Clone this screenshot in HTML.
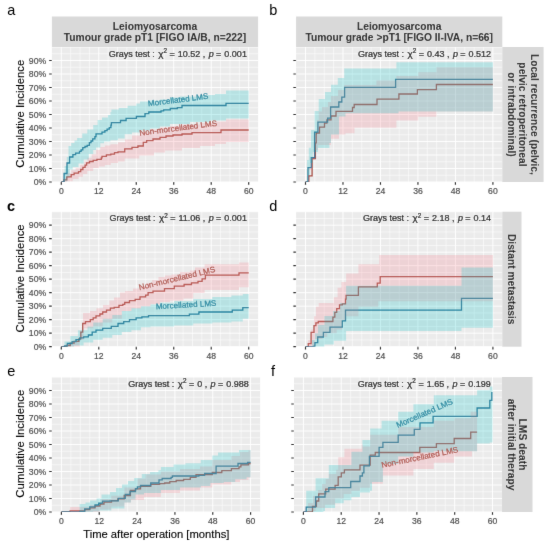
<!DOCTYPE html>
<html><head><meta charset="utf-8"><style>
html,body{margin:0;padding:0;background:#fff;}
body{width:550px;height:545px;position:relative;overflow:hidden;font-family:"Liberation Sans",sans-serif;}
svg text{font-family:"Liberation Sans",sans-serif;}
</style></head><body>
<svg width="550" height="545" viewBox="0 0 550 545" style="position:absolute;left:0;top:0">
<defs><filter id="soft" x="0" y="0" width="550" height="545" filterUnits="userSpaceOnUse"><feConvolveMatrix order="3" kernelMatrix="0.0052 0.0619 0.0052 0.0619 0.7314 0.0619 0.0052 0.0619 0.0052" edgeMode="duplicate" preserveAlpha="false"/></filter></defs>
<rect width="550" height="545" fill="#fff"/><g filter="url(#soft)">
<text x="7.3" y="15" font-size="14.5" fill="#000">a</text>
<text x="269.3" y="15" font-size="14.5" fill="#000">b</text>
<text x="7.0" y="210.7" font-size="14.5" fill="#000" font-weight="bold">c</text>
<text x="269.3" y="210.7" font-size="14.5" fill="#000">d</text>
<text x="7.3" y="375.6" font-size="14.5" fill="#000">e</text>
<text x="271.0" y="375.6" font-size="14.5" fill="#000">f</text>
<clipPath id="clipa"><rect x="51.9" y="47" width="206.2" height="135"/></clipPath>
<rect x="51.9" y="47" width="206.2" height="135" fill="#EBEBEB"/>
<path d="M51.9 175.25H258.1M51.9 161.75H258.1M51.9 148.25H258.1M51.9 134.75H258.1M51.9 121.25H258.1M51.9 107.75H258.1M51.9 94.25H258.1M51.9 80.75H258.1M51.9 67.25H258.1M51.9 53.75H258.1M70.67 47V182M80.04 47V182M89.41 47V182M108.15 47V182M117.52 47V182M126.89 47V182M145.63 47V182M155 47V182M164.37 47V182M183.11 47V182M192.48 47V182M201.85 47V182M220.59 47V182M229.96 47V182M239.33 47V182" stroke="#fff" stroke-width="0.55" fill="none"/>
<path d="M51.9 182H258.1M51.9 168.5H258.1M51.9 155H258.1M51.9 141.5H258.1M51.9 128H258.1M51.9 114.5H258.1M51.9 101H258.1M51.9 87.5H258.1M51.9 74H258.1M51.9 60.5H258.1M51.9 47H258.1M61.3 47V182M98.78 47V182M136.26 47V182M173.74 47V182M211.22 47V182M248.7 47V182" stroke="#fff" stroke-width="0.95" fill="none"/>
<g clip-path="url(#clipa)">
<path d="M61.3 182 L63.9 182 L63.9 179.8 L66.8 179.8 L66.8 176.8 L71.2 176.8 L71.2 174.6 L74.1 174.6 L74.1 173.2 L78.5 173.2 L78.5 171.7 L80.7 171.7 L80.7 169.5 L82.9 169.5 L82.9 167.3 L85.1 167.3 L85.1 165.1 L86.6 165.1 L86.6 162.9 L89.5 162.9 L89.5 161.5 L93.2 161.5 L93.2 160.4 L96.9 160.4 L96.9 159.3 L101.3 159.3 L101.3 157.8 L102 157.8 L102 156.3 L106.4 156.3 L106.4 154.9 L110.8 154.9 L110.8 154.1 L114.5 154.1 L114.5 152.7 L118 152.7 L118 151.9 L124.7 151.9 L124.7 148.9 L132 148.9 L132 147.4 L137.9 147.4 L137.9 146 L143.3 146 L143.3 142.3 L146.6 142.3 L146.6 140.7 L153 140.7 L153 139 L160 139 L160 137.4 L166 137.4 L166 136 L173 136 L173 135 L182 135 L182 134 L192 134 L192 132.6 L221 132.6 L221 130 L248.7 130" stroke="#a84b40" stroke-width="1.3" fill="none" stroke-linejoin="miter"/>
<path d="M61.3 182 L64.1 182 L64.1 173.5 L67 173.5 L67 163 L69.6 163 L69.6 157 L72.9 157 L72.9 154.7 L75.6 154.7 L75.6 153.1 L79.5 153.1 L79.5 151.4 L81.1 151.4 L81.1 149.8 L82.8 149.8 L82.8 147.6 L85 147.6 L85 146.5 L87.2 146.5 L87.2 145.4 L89.4 145.4 L89.4 142.6 L91 142.6 L91 141 L92.7 141 L92.7 138.8 L94.9 138.8 L94.9 136.6 L96 136.6 L96 133.8 L102 133.8 L102 132.1 L104.9 132.1 L104.9 130.7 L107.1 130.7 L107.1 129.2 L109.3 129.2 L109.3 127.7 L110.9 127.7 L110.9 125.2 L111.4 125.2 L111.4 122.6 L120.5 122.6 L120.5 120.5 L126.1 120.5 L126.1 118.4 L136.4 118.4 L136.4 116.5 L145 116.5 L145 113.7 L148.8 113.7 L148.8 112 L161 112 L161 110.9 L163.7 110.9 L163.7 109.8 L170.3 109.8 L170.3 108.5 L177.4 108.5 L177.4 107.6 L182 107.6 L182 105.5 L226 105.5 L226 103.4 L248.7 103.4" stroke="#2a7396" stroke-width="1.3" fill="none" stroke-linejoin="miter"/>
<path d="M61.3 182 L63.9 182 L63.9 178.3 L66.8 178.3 L66.8 173.2 L71.2 173.2 L71.2 170.2 L75.6 170.2 L75.6 168 L80 168 L80 165.1 L84.4 165.1 L84.4 161.5 L87.3 161.5 L87.3 157.8 L91.7 157.8 L91.7 154.2 L96.1 154.2 L96.1 150 L100.3 150 L100.3 147 L104.9 147 L104.9 145.5 L110.4 145.5 L110.4 144.3 L118 144.3 L118 142.3 L125 142.3 L125 139.5 L132 139.5 L132 135.5 L140 135.5 L140 132 L150 132 L150 129.5 L160 129.5 L160 127.5 L170 127.5 L170 126 L182 126 L182 124.5 L200 124.5 L200 123 L215 123 L215 121.4 L226 121.4 L226 119.4 L248.7 119.4 L248.7 142 L226 142 L226 144 L215 144 L215 146 L200 146 L200 148 L182 148 L182 150.4 L165 150.4 L165 152.6 L154 152.6 L154 155.5 L139.3 155.5 L139.3 158.5 L124.7 158.5 L124.7 161.5 L118 161.5 L118 162.9 L110.8 162.9 L110.8 165.1 L104.9 165.1 L104.9 166.6 L99 166.6 L99 168 L93.2 168 L93.2 171 L87.3 171 L87.3 173.9 L82.9 173.9 L82.9 176.8 L78.5 176.8 L78.5 179 L72.7 179 L72.7 181.2 L66.8 181.2 L66.8 182 L61.3 182Z" fill="#F57A88" fill-opacity="0.22"/>
<path d="M61.3 182 L63.5 182 L63.5 173 L64.6 173 L64.6 166 L66.8 166 L66.8 157 L68.5 157 L68.5 146 L71.2 146 L71.2 143 L74.5 143 L74.5 140.5 L77.1 140.5 L77.1 138 L82.2 138 L82.2 133.5 L87.3 133.5 L87.3 129.5 L93.2 129.5 L93.2 125 L97.6 125 L97.6 120 L102 120 L102 117.5 L107.9 117.5 L107.9 115 L110.4 115 L110.4 112 L111.4 112 L111.4 109.5 L118.8 109.5 L118.8 107.9 L127.6 107.9 L127.6 105.7 L136.4 105.7 L136.4 103.5 L140 103.5 L140 101.6 L150 101.6 L150 100.5 L160 100.5 L160 99.4 L170 99.4 L170 97.5 L180 97.5 L180 96.5 L200 96.5 L200 95 L215 95 L215 94 L226 94 L226 90.6 L248.7 90.6 L248.7 118.5 L226 118.5 L226 120.5 L210 120.5 L210 122 L190 122 L190 124.1 L170 124.1 L170 126.5 L160 126.5 L160 128.5 L150 128.5 L150 130.2 L140 130.2 L140 132.5 L132 132.5 L132 134.3 L124.7 134.3 L124.7 138.5 L118 138.5 L118 140.3 L110.4 140.3 L110.4 141.5 L104 141.5 L104 143.3 L100.3 143.3 L100.3 147.5 L96.1 147.5 L96.1 150 L93.2 150 L93.2 154 L88.8 154 L88.8 159.5 L83.7 159.5 L83.7 163.5 L78.5 163.5 L78.5 167 L72.7 167 L72.7 169.5 L69.7 169.5 L69.7 176.8 L67.5 176.8 L67.5 181.2 L64.6 181.2 L64.6 182 L61.3 182Z" fill="#00BFC4" fill-opacity="0.22"/>
</g>
<text x="178.5" y="102.5" font-size="8.1" fill="#23869f" stroke="#23869f" stroke-width="0.2" text-anchor="middle" transform="rotate(-7.2 178.5 102.5)">Morcellated LMS</text>
<text x="178.5" y="130.7" font-size="8.1" fill="#ad5249" stroke="#ad5249" stroke-width="0.2" text-anchor="middle" transform="rotate(-7.3 178.5 130.7)">Non-morcellated LMS</text>
<path d="M49.15 182H51.9M49.15 168.5H51.9M49.15 155H51.9M49.15 141.5H51.9M49.15 128H51.9M49.15 114.5H51.9M49.15 101H51.9M49.15 87.5H51.9M49.15 74H51.9M49.15 60.5H51.9M61.3 182V184.75M98.78 182V184.75M136.26 182V184.75M173.74 182V184.75M211.22 182V184.75M248.7 182V184.75" stroke="#333" stroke-width="1.2" fill="none"/>
<text x="61.3" y="193.8" font-size="8.6" fill="#4D4D4D" stroke="#4D4D4D" stroke-width="0.18" text-anchor="middle">0</text>
<text x="98.78" y="193.8" font-size="8.6" fill="#4D4D4D" stroke="#4D4D4D" stroke-width="0.18" text-anchor="middle">12</text>
<text x="136.26" y="193.8" font-size="8.6" fill="#4D4D4D" stroke="#4D4D4D" stroke-width="0.18" text-anchor="middle">24</text>
<text x="173.74" y="193.8" font-size="8.6" fill="#4D4D4D" stroke="#4D4D4D" stroke-width="0.18" text-anchor="middle">36</text>
<text x="211.22" y="193.8" font-size="8.6" fill="#4D4D4D" stroke="#4D4D4D" stroke-width="0.18" text-anchor="middle">48</text>
<text x="248.7" y="193.8" font-size="8.6" fill="#4D4D4D" stroke="#4D4D4D" stroke-width="0.18" text-anchor="middle">60</text>
<text x="46.2" y="185.1" font-size="8.7" fill="#4D4D4D" stroke="#4D4D4D" stroke-width="0.18" text-anchor="end">0%</text>
<text x="46.2" y="171.6" font-size="8.7" fill="#4D4D4D" stroke="#4D4D4D" stroke-width="0.18" text-anchor="end">10%</text>
<text x="46.2" y="158.1" font-size="8.7" fill="#4D4D4D" stroke="#4D4D4D" stroke-width="0.18" text-anchor="end">20%</text>
<text x="46.2" y="144.6" font-size="8.7" fill="#4D4D4D" stroke="#4D4D4D" stroke-width="0.18" text-anchor="end">30%</text>
<text x="46.2" y="131.1" font-size="8.7" fill="#4D4D4D" stroke="#4D4D4D" stroke-width="0.18" text-anchor="end">40%</text>
<text x="46.2" y="117.6" font-size="8.7" fill="#4D4D4D" stroke="#4D4D4D" stroke-width="0.18" text-anchor="end">50%</text>
<text x="46.2" y="104.1" font-size="8.7" fill="#4D4D4D" stroke="#4D4D4D" stroke-width="0.18" text-anchor="end">60%</text>
<text x="46.2" y="90.6" font-size="8.7" fill="#4D4D4D" stroke="#4D4D4D" stroke-width="0.18" text-anchor="end">70%</text>
<text x="46.2" y="77.1" font-size="8.7" fill="#4D4D4D" stroke="#4D4D4D" stroke-width="0.18" text-anchor="end">80%</text>
<text x="46.2" y="63.6" font-size="8.7" fill="#4D4D4D" stroke="#4D4D4D" stroke-width="0.18" text-anchor="end">90%</text>
<text x="23.8" y="113.7" font-size="11.3" fill="#000" stroke="#000" stroke-width="0.12" text-anchor="middle" transform="rotate(-90 23.8 113.7)">Cumulative Incidence</text>
<text x="246.9" y="56.7" font-size="9" fill="#111" stroke="#111" stroke-width="0.22" text-anchor="end">Grays test :<tspan dx="3.4" font-size="9.9">χ</tspan><tspan dy="-3.8" font-size="6.3">2</tspan><tspan dy="3.8" dx="2.6">=</tspan><tspan dx="3">10.52</tspan><tspan dx="2.4">,</tspan><tspan dx="3.4" font-style="italic">p</tspan><tspan dx="2.4">=</tspan><tspan dx="3">0.001</tspan></text>
<clipPath id="clipb"><rect x="296.1" y="47" width="206.2" height="135"/></clipPath>
<rect x="296.1" y="47" width="206.2" height="135" fill="#EBEBEB"/>
<path d="M296.1 175.25H502.3M296.1 161.75H502.3M296.1 148.25H502.3M296.1 134.75H502.3M296.1 121.25H502.3M296.1 107.75H502.3M296.1 94.25H502.3M296.1 80.75H502.3M296.1 67.25H502.3M296.1 53.75H502.3M314.87 47V182M324.24 47V182M333.61 47V182M352.35 47V182M361.72 47V182M371.09 47V182M389.83 47V182M399.2 47V182M408.57 47V182M427.31 47V182M436.68 47V182M446.05 47V182M464.79 47V182M474.16 47V182M483.53 47V182" stroke="#fff" stroke-width="0.55" fill="none"/>
<path d="M296.1 182H502.3M296.1 168.5H502.3M296.1 155H502.3M296.1 141.5H502.3M296.1 128H502.3M296.1 114.5H502.3M296.1 101H502.3M296.1 87.5H502.3M296.1 74H502.3M296.1 60.5H502.3M296.1 47H502.3M305.5 47V182M342.98 47V182M380.46 47V182M417.94 47V182M455.42 47V182M492.9 47V182" stroke="#fff" stroke-width="0.95" fill="none"/>
<g clip-path="url(#clipb)">
<path d="M305.5 182 L308.8 182 L308.8 175.9 L312.1 175.9 L312.1 158.5 L315.4 158.5 L315.4 142.9 L316.2 142.9 L316.2 133 L319.5 133 L319.5 127.2 L324.5 127.2 L324.5 123.1 L326.9 123.1 L326.9 119.8 L331 119.8 L331 116 L336 116 L336 111.3 L352.5 111.3 L352.5 107.5 L354.2 107.5 L354.2 104.5 L377 104.5 L377 99.2 L398.9 99.2 L398.9 94 L417.4 94 L417.4 89.6 L436.4 89.6 L436.4 84.5 L492.9 84.5" stroke="#a84b40" stroke-width="1.3" fill="none" stroke-linejoin="miter"/>
<path d="M305.5 182 L308 182 L308 167.6 L311.3 167.6 L311.3 157.7 L314.6 157.7 L314.6 132.1 L317.9 132.1 L317.9 122.2 L327.6 122.2 L327.6 118.1 L330.6 118.1 L330.6 107 L338.8 107 L338.8 102 L341.8 102 L341.8 97.2 L344.6 97.2 L344.6 87.3 L395.6 87.3 L395.6 79.4 L492.9 79.4" stroke="#2a7396" stroke-width="1.3" fill="none" stroke-linejoin="miter"/>
<path d="M305.5 182 L308 182 L308 168 L311 168 L311 158 L314.6 158 L314.6 135 L317 135 L317 120 L318.7 120 L318.7 111.5 L322 111.5 L322 107 L328 107 L328 102 L331 102 L331 96 L338 96 L338 90 L344.2 90 L344.2 85 L376.4 85 L376.4 80.5 L396.4 80.5 L396.4 75.9 L418.2 75.9 L418.2 72.3 L436.4 72.3 L436.4 67.3 L492.9 67.3 L492.9 111.6 L436.4 111.6 L436.4 116.7 L418.2 116.7 L418.2 120.5 L396.4 120.5 L396.4 127.7 L354.5 127.7 L354.5 133.2 L345.5 133.2 L345.5 134.5 L339 134.5 L339 138.7 L331 138.7 L331 145 L318 145 L318 150 L315 150 L315 160 L312 160 L312 170 L309 170 L309 182 L305.5 182Z" fill="#F57A88" fill-opacity="0.22"/>
<path d="M305.5 182 L307 182 L307 160 L308.8 160 L308.8 147.8 L311 147.8 L311 130 L314.6 130 L314.6 111 L318.7 111 L318.7 99.1 L325 99.1 L325 92 L331 92 L331 84.8 L337.8 84.8 L337.8 78 L344.2 78 L344.2 68.6 L396.4 68.6 L396.4 62.3 L492.9 62.3 L492.9 111.6 L398.5 111.6 L398.5 113.2 L345.5 113.2 L345.5 116.5 L339 116.5 L339 134.6 L331 134.6 L331 143 L329.4 143 L329.4 148 L318 148 L318 152 L312.9 152 L312.9 163 L310 163 L310 175 L308 175 L308 182 L305.5 182Z" fill="#00BFC4" fill-opacity="0.22"/>
</g>
<path d="M293.35 182H296.1M293.35 168.5H296.1M293.35 155H296.1M293.35 141.5H296.1M293.35 128H296.1M293.35 114.5H296.1M293.35 101H296.1M293.35 87.5H296.1M293.35 74H296.1M293.35 60.5H296.1M305.5 182V184.75M342.98 182V184.75M380.46 182V184.75M417.94 182V184.75M455.42 182V184.75M492.9 182V184.75" stroke="#333" stroke-width="1.2" fill="none"/>
<text x="305.5" y="193.8" font-size="8.6" fill="#4D4D4D" stroke="#4D4D4D" stroke-width="0.18" text-anchor="middle">0</text>
<text x="342.98" y="193.8" font-size="8.6" fill="#4D4D4D" stroke="#4D4D4D" stroke-width="0.18" text-anchor="middle">12</text>
<text x="380.46" y="193.8" font-size="8.6" fill="#4D4D4D" stroke="#4D4D4D" stroke-width="0.18" text-anchor="middle">24</text>
<text x="417.94" y="193.8" font-size="8.6" fill="#4D4D4D" stroke="#4D4D4D" stroke-width="0.18" text-anchor="middle">36</text>
<text x="455.42" y="193.8" font-size="8.6" fill="#4D4D4D" stroke="#4D4D4D" stroke-width="0.18" text-anchor="middle">48</text>
<text x="492.9" y="193.8" font-size="8.6" fill="#4D4D4D" stroke="#4D4D4D" stroke-width="0.18" text-anchor="middle">60</text>
<text x="491.1" y="56.7" font-size="9" fill="#111" stroke="#111" stroke-width="0.22" text-anchor="end">Grays test :<tspan dx="3.4" font-size="9.9">χ</tspan><tspan dy="-3.8" font-size="6.3">2</tspan><tspan dy="3.8" dx="2.6">=</tspan><tspan dx="3">0.43</tspan><tspan dx="2.4">,</tspan><tspan dx="3.4" font-style="italic">p</tspan><tspan dx="2.4">=</tspan><tspan dx="3">0.512</tspan></text>
<clipPath id="clipc"><rect x="51.9" y="211.7" width="206.2" height="135"/></clipPath>
<rect x="51.9" y="211.7" width="206.2" height="135" fill="#EBEBEB"/>
<path d="M51.9 339.95H258.1M51.9 326.45H258.1M51.9 312.95H258.1M51.9 299.45H258.1M51.9 285.95H258.1M51.9 272.45H258.1M51.9 258.95H258.1M51.9 245.45H258.1M51.9 231.95H258.1M51.9 218.45H258.1M70.67 211.7V346.7M80.04 211.7V346.7M89.41 211.7V346.7M108.15 211.7V346.7M117.52 211.7V346.7M126.89 211.7V346.7M145.63 211.7V346.7M155 211.7V346.7M164.37 211.7V346.7M183.11 211.7V346.7M192.48 211.7V346.7M201.85 211.7V346.7M220.59 211.7V346.7M229.96 211.7V346.7M239.33 211.7V346.7" stroke="#fff" stroke-width="0.55" fill="none"/>
<path d="M51.9 346.7H258.1M51.9 333.2H258.1M51.9 319.7H258.1M51.9 306.2H258.1M51.9 292.7H258.1M51.9 279.2H258.1M51.9 265.7H258.1M51.9 252.2H258.1M51.9 238.7H258.1M51.9 225.2H258.1M51.9 211.7H258.1M61.3 211.7V346.7M98.78 211.7V346.7M136.26 211.7V346.7M173.74 211.7V346.7M211.22 211.7V346.7M248.7 211.7V346.7" stroke="#fff" stroke-width="0.95" fill="none"/>
<g clip-path="url(#clipc)">
<path d="M61.3 346.7 L66.5 346.7 L66.5 345.5 L70.3 345.5 L70.3 343.2 L74.1 343.2 L74.1 341.3 L78.9 341.3 L78.9 338.8 L80.8 338.8 L80.8 332.1 L82.7 332.1 L82.7 323.5 L85.5 323.5 L85.5 321.6 L90.3 321.6 L90.3 319.7 L93.2 319.7 L93.2 317.8 L96 317.8 L96 315.9 L99.9 315.9 L99.9 314 L102.7 314 L102.7 312 L106.5 312 L106.5 310.1 L110.4 310.1 L110.4 308.2 L114.2 308.2 L114.2 307.3 L119 307.3 L119 305.4 L122.8 305.4 L122.8 304.4 L124.7 304.4 L124.7 302.5 L129.5 302.5 L129.5 300.6 L135.2 300.6 L135.2 299.3 L140 299.3 L140 296.8 L145.6 296.8 L145.6 295.2 L148.1 295.2 L148.1 292.7 L153 292.7 L153 291.1 L164.5 291.1 L164.5 288.6 L174.3 288.6 L174.3 286.2 L184.1 286.2 L184.1 284.5 L191.5 284.5 L191.5 282.9 L198 282.9 L198 281.3 L202.1 281.3 L202.1 278.8 L205.4 278.8 L205.4 275.2 L239 275.2 L239 272.9 L248.7 272.9" stroke="#a84b40" stroke-width="1.3" fill="none" stroke-linejoin="miter"/>
<path d="M61.3 346.7 L64.5 346.7 L64.5 346 L67.4 346 L67.4 343.5 L72.2 343.5 L72.2 341.6 L76 341.6 L76 339.7 L79.8 339.7 L79.8 337.8 L83.6 337.8 L83.6 336.9 L88.4 336.9 L88.4 335 L92.2 335 L92.2 332.1 L96 332.1 L96 330.2 L102.7 330.2 L102.7 328.3 L111.3 328.3 L111.3 326.4 L118 326.4 L118 323.5 L123.7 323.5 L123.7 321.6 L129.5 321.6 L129.5 319.7 L136.1 319.7 L136.1 317.8 L141.9 317.8 L141.9 316.8 L148.5 316.8 L148.5 315.6 L189.4 315.6 L189.4 314.2 L198.9 314.2 L198.9 312 L232.3 312 L232.3 310.1 L242.8 310.1 L242.8 307.7 L248.7 307.7" stroke="#2a7396" stroke-width="1.3" fill="none" stroke-linejoin="miter"/>
<path d="M61.3 346.7 L66 346.7 L66 344 L72 344 L72 341 L79.8 341 L79.8 330.2 L83 330.2 L83 313 L90 313 L90 311 L96.5 311 L96.5 308.3 L103 308.3 L103 305 L109.4 305 L109.4 300.5 L114 300.5 L114 297.5 L120 297.5 L120 292.4 L125 292.4 L125 291 L133 291 L133 288.5 L140 288.5 L140 286 L146 286 L146 283 L152 283 L152 280 L158.5 280 L158.5 277 L165 277 L165 275.5 L171.4 275.5 L171.4 274.4 L180 274.4 L180 272 L190 272 L190 270.5 L195 270.5 L195 267.5 L204.6 267.5 L204.6 264.3 L239 264.3 L239 262.4 L248.7 262.4 L248.7 287.2 L239 287.2 L239 290.1 L204.6 290.1 L204.6 293 L193.2 293 L193.2 298.5 L183.6 298.5 L183.6 300.5 L170 300.5 L170 302 L160 302 L160 304 L150.5 304 L150.5 306.5 L140.9 306.5 L140.9 308.5 L131.4 308.5 L131.4 311 L121.8 311 L121.8 318.7 L112.3 318.7 L112.3 322.5 L102.7 322.5 L102.7 326.4 L93.2 326.4 L93.2 328.3 L83.6 328.3 L83.6 339.7 L79.8 339.7 L79.8 346.7 L61.3 346.7Z" fill="#F57A88" fill-opacity="0.22"/>
<path d="M61.3 346.7 L64.5 346.7 L64.5 341.6 L70.3 341.6 L70.3 335.9 L77.9 335.9 L77.9 330.2 L87.5 330.2 L87.5 326.4 L93.2 326.4 L93.2 322.5 L102.7 322.5 L102.7 318.7 L112.3 318.7 L112.3 314.9 L121.8 314.9 L121.8 311.1 L131.4 311.1 L131.4 308.2 L140.9 308.2 L140.9 306.3 L150.5 306.3 L150.5 304.4 L160 304.4 L160 302.7 L174.1 302.7 L174.1 301 L193.2 301 L193.2 299 L212.3 299 L212.3 297 L231.4 297 L231.4 295.5 L242.8 295.5 L242.8 294 L248.7 294 L248.7 318.7 L242.8 318.7 L242.8 321.6 L231.4 321.6 L231.4 322.5 L212.3 322.5 L212.3 323.5 L193.2 323.5 L193.2 325.4 L174.1 325.4 L174.1 326.4 L150.5 326.4 L150.5 327.3 L140.9 327.3 L140.9 330.2 L131.4 330.2 L131.4 332.1 L121.8 332.1 L121.8 335 L112.3 335 L112.3 337.8 L102.7 337.8 L102.7 339.7 L93.2 339.7 L93.2 342.6 L83.6 342.6 L83.6 345.5 L74.1 345.5 L74.1 346.7 L61.3 346.7Z" fill="#00BFC4" fill-opacity="0.22"/>
</g>
<text x="177.6" y="281" font-size="8.1" fill="#ad5249" stroke="#ad5249" stroke-width="0.2" text-anchor="middle" transform="rotate(-13.6 177.6 281)">Non-morcellated LMS</text>
<text x="186.2" y="307.5" font-size="8.1" fill="#23869f" stroke="#23869f" stroke-width="0.2" text-anchor="middle" transform="rotate(-3.2 186.2 307.5)">Morcellated LMS</text>
<path d="M49.15 346.7H51.9M49.15 333.2H51.9M49.15 319.7H51.9M49.15 306.2H51.9M49.15 292.7H51.9M49.15 279.2H51.9M49.15 265.7H51.9M49.15 252.2H51.9M49.15 238.7H51.9M49.15 225.2H51.9M61.3 346.7V349.45M98.78 346.7V349.45M136.26 346.7V349.45M173.74 346.7V349.45M211.22 346.7V349.45M248.7 346.7V349.45" stroke="#333" stroke-width="1.2" fill="none"/>
<text x="61.3" y="358.5" font-size="8.6" fill="#4D4D4D" stroke="#4D4D4D" stroke-width="0.18" text-anchor="middle">0</text>
<text x="98.78" y="358.5" font-size="8.6" fill="#4D4D4D" stroke="#4D4D4D" stroke-width="0.18" text-anchor="middle">12</text>
<text x="136.26" y="358.5" font-size="8.6" fill="#4D4D4D" stroke="#4D4D4D" stroke-width="0.18" text-anchor="middle">24</text>
<text x="173.74" y="358.5" font-size="8.6" fill="#4D4D4D" stroke="#4D4D4D" stroke-width="0.18" text-anchor="middle">36</text>
<text x="211.22" y="358.5" font-size="8.6" fill="#4D4D4D" stroke="#4D4D4D" stroke-width="0.18" text-anchor="middle">48</text>
<text x="248.7" y="358.5" font-size="8.6" fill="#4D4D4D" stroke="#4D4D4D" stroke-width="0.18" text-anchor="middle">60</text>
<text x="46.2" y="349.8" font-size="8.7" fill="#4D4D4D" stroke="#4D4D4D" stroke-width="0.18" text-anchor="end">0%</text>
<text x="46.2" y="336.3" font-size="8.7" fill="#4D4D4D" stroke="#4D4D4D" stroke-width="0.18" text-anchor="end">10%</text>
<text x="46.2" y="322.8" font-size="8.7" fill="#4D4D4D" stroke="#4D4D4D" stroke-width="0.18" text-anchor="end">20%</text>
<text x="46.2" y="309.3" font-size="8.7" fill="#4D4D4D" stroke="#4D4D4D" stroke-width="0.18" text-anchor="end">30%</text>
<text x="46.2" y="295.8" font-size="8.7" fill="#4D4D4D" stroke="#4D4D4D" stroke-width="0.18" text-anchor="end">40%</text>
<text x="46.2" y="282.3" font-size="8.7" fill="#4D4D4D" stroke="#4D4D4D" stroke-width="0.18" text-anchor="end">50%</text>
<text x="46.2" y="268.8" font-size="8.7" fill="#4D4D4D" stroke="#4D4D4D" stroke-width="0.18" text-anchor="end">60%</text>
<text x="46.2" y="255.3" font-size="8.7" fill="#4D4D4D" stroke="#4D4D4D" stroke-width="0.18" text-anchor="end">70%</text>
<text x="46.2" y="241.8" font-size="8.7" fill="#4D4D4D" stroke="#4D4D4D" stroke-width="0.18" text-anchor="end">80%</text>
<text x="46.2" y="228.3" font-size="8.7" fill="#4D4D4D" stroke="#4D4D4D" stroke-width="0.18" text-anchor="end">90%</text>
<text x="23.8" y="278.4" font-size="11.3" fill="#000" stroke="#000" stroke-width="0.12" text-anchor="middle" transform="rotate(-90 23.8 278.4)">Cumulative Incidence</text>
<text x="246.9" y="221.4" font-size="9" fill="#111" stroke="#111" stroke-width="0.22" text-anchor="end">Grays test :<tspan dx="3.4" font-size="9.9">χ</tspan><tspan dy="-3.8" font-size="6.3">2</tspan><tspan dy="3.8" dx="2.6">=</tspan><tspan dx="3">11.06</tspan><tspan dx="2.4">,</tspan><tspan dx="3.4" font-style="italic">p</tspan><tspan dx="2.4">=</tspan><tspan dx="3">0.001</tspan></text>
<clipPath id="clipd"><rect x="296.1" y="211.7" width="206.2" height="135"/></clipPath>
<rect x="296.1" y="211.7" width="206.2" height="135" fill="#EBEBEB"/>
<path d="M296.1 339.95H502.3M296.1 326.45H502.3M296.1 312.95H502.3M296.1 299.45H502.3M296.1 285.95H502.3M296.1 272.45H502.3M296.1 258.95H502.3M296.1 245.45H502.3M296.1 231.95H502.3M296.1 218.45H502.3M314.87 211.7V346.7M324.24 211.7V346.7M333.61 211.7V346.7M352.35 211.7V346.7M361.72 211.7V346.7M371.09 211.7V346.7M389.83 211.7V346.7M399.2 211.7V346.7M408.57 211.7V346.7M427.31 211.7V346.7M436.68 211.7V346.7M446.05 211.7V346.7M464.79 211.7V346.7M474.16 211.7V346.7M483.53 211.7V346.7" stroke="#fff" stroke-width="0.55" fill="none"/>
<path d="M296.1 346.7H502.3M296.1 333.2H502.3M296.1 319.7H502.3M296.1 306.2H502.3M296.1 292.7H502.3M296.1 279.2H502.3M296.1 265.7H502.3M296.1 252.2H502.3M296.1 238.7H502.3M296.1 225.2H502.3M296.1 211.7H502.3M305.5 211.7V346.7M342.98 211.7V346.7M380.46 211.7V346.7M417.94 211.7V346.7M455.42 211.7V346.7M492.9 211.7V346.7" stroke="#fff" stroke-width="0.95" fill="none"/>
<g clip-path="url(#clipd)">
<path d="M305.5 346.7 L308.3 346.7 L308.3 343.6 L311.1 343.6 L311.1 332.3 L314 332.3 L314 325.6 L315.9 325.6 L315.9 322.8 L318.3 322.8 L318.3 321.5 L332.9 321.5 L332.9 317.1 L334.8 317.1 L334.8 312.4 L336.7 312.4 L336.7 308.6 L339.5 308.6 L339.5 304.8 L342.3 304.8 L342.3 303.9 L345.5 303.9 L345.5 299.2 L346.1 299.2 L346.1 295.4 L358.4 295.4 L358.4 286.9 L377.3 286.9 L377.3 283.1 L380.2 283.1 L380.2 276.6 L492.9 276.6" stroke="#a84b40" stroke-width="1.3" fill="none" stroke-linejoin="miter"/>
<path d="M305.5 346.7 L314 346.7 L314 346.2 L314.9 346.2 L314.9 342.7 L317.7 342.7 L317.7 337 L323.4 337 L323.4 332.3 L330 332.3 L330 327.2 L342.3 327.2 L342.3 320.9 L345.5 320.9 L345.5 310.2 L461.5 310.2 L461.5 298.3 L492.9 298.3" stroke="#2a7396" stroke-width="1.3" fill="none" stroke-linejoin="miter"/>
<path d="M305.5 346.7 L308 346.7 L308 340 L311.1 340 L311.1 329.4 L314 329.4 L314 316.2 L315.9 316.2 L315.9 306.7 L318.7 306.7 L318.7 303 L333.8 303 L333.8 297.3 L337.6 297.3 L337.6 287.8 L341.4 287.8 L341.4 282.1 L346.1 282.1 L346.1 273.6 L358.4 273.6 L358.4 264.2 L379.2 264.2 L379.2 255 L492.9 255 L492.9 301.2 L378.3 301.2 L378.3 306.7 L358.4 306.7 L358.4 316.2 L346.1 316.2 L346.1 320 L342.3 320 L342.3 329.4 L336.7 329.4 L336.7 333.2 L327.2 333.2 L327.2 337 L322.5 337 L322.5 338.9 L314.9 338.9 L314.9 346.7 L305.5 346.7Z" fill="#F57A88" fill-opacity="0.22"/>
<path d="M305.5 346.7 L312 346.7 L312 340 L314.9 340 L314.9 333.2 L318 333.2 L318 325 L324.4 325 L324.4 316 L333 316 L333 311 L340 311 L340 303 L346.1 303 L346.1 285.7 L461.5 285.7 L461.5 267.4 L492.9 267.4 L492.9 327.7 L461.5 327.7 L461.5 331.1 L346.1 331.1 L346.1 340.8 L333.8 340.8 L333.8 344.6 L324.4 344.6 L324.4 346.7 L316 346.7 L316 346.7 L305.5 346.7Z" fill="#00BFC4" fill-opacity="0.22"/>
</g>
<path d="M293.35 346.7H296.1M293.35 333.2H296.1M293.35 319.7H296.1M293.35 306.2H296.1M293.35 292.7H296.1M293.35 279.2H296.1M293.35 265.7H296.1M293.35 252.2H296.1M293.35 238.7H296.1M293.35 225.2H296.1M305.5 346.7V349.45M342.98 346.7V349.45M380.46 346.7V349.45M417.94 346.7V349.45M455.42 346.7V349.45M492.9 346.7V349.45" stroke="#333" stroke-width="1.2" fill="none"/>
<text x="305.5" y="358.5" font-size="8.6" fill="#4D4D4D" stroke="#4D4D4D" stroke-width="0.18" text-anchor="middle">0</text>
<text x="342.98" y="358.5" font-size="8.6" fill="#4D4D4D" stroke="#4D4D4D" stroke-width="0.18" text-anchor="middle">12</text>
<text x="380.46" y="358.5" font-size="8.6" fill="#4D4D4D" stroke="#4D4D4D" stroke-width="0.18" text-anchor="middle">24</text>
<text x="417.94" y="358.5" font-size="8.6" fill="#4D4D4D" stroke="#4D4D4D" stroke-width="0.18" text-anchor="middle">36</text>
<text x="455.42" y="358.5" font-size="8.6" fill="#4D4D4D" stroke="#4D4D4D" stroke-width="0.18" text-anchor="middle">48</text>
<text x="492.9" y="358.5" font-size="8.6" fill="#4D4D4D" stroke="#4D4D4D" stroke-width="0.18" text-anchor="middle">60</text>
<text x="491.1" y="221.4" font-size="9" fill="#111" stroke="#111" stroke-width="0.22" text-anchor="end">Grays test :<tspan dx="3.4" font-size="9.9">χ</tspan><tspan dy="-3.8" font-size="6.3">2</tspan><tspan dy="3.8" dx="2.6">=</tspan><tspan dx="3">2.18</tspan><tspan dx="2.4">,</tspan><tspan dx="3.4" font-style="italic">p</tspan><tspan dx="2.4">=</tspan><tspan dx="3">0.14</tspan></text>
<clipPath id="clipe"><rect x="51.9" y="377" width="208.2" height="135"/></clipPath>
<rect x="51.9" y="377" width="208.2" height="135" fill="#EBEBEB"/>
<path d="M51.9 505.25H260.1M51.9 491.75H260.1M51.9 478.25H260.1M51.9 464.75H260.1M51.9 451.25H260.1M51.9 437.75H260.1M51.9 424.25H260.1M51.9 410.75H260.1M51.9 397.25H260.1M51.9 383.75H260.1M70.86 377V512M80.32 377V512M89.78 377V512M108.7 377V512M118.16 377V512M127.62 377V512M146.54 377V512M156 377V512M165.46 377V512M184.38 377V512M193.84 377V512M203.3 377V512M222.22 377V512M231.68 377V512M241.14 377V512" stroke="#fff" stroke-width="0.55" fill="none"/>
<path d="M51.9 512H260.1M51.9 498.5H260.1M51.9 485H260.1M51.9 471.5H260.1M51.9 458H260.1M51.9 444.5H260.1M51.9 431H260.1M51.9 417.5H260.1M51.9 404H260.1M51.9 390.5H260.1M51.9 377H260.1M61.4 377V512M99.24 377V512M137.08 377V512M174.92 377V512M212.76 377V512M250.6 377V512" stroke="#fff" stroke-width="0.95" fill="none"/>
<g clip-path="url(#clipe)">
<path d="M61.4 512 L70.1 512 L70.1 510.8 L84.7 510.8 L84.7 509.6 L89.8 509.6 L89.8 507.9 L95 507.9 L95 506 L100 506 L100 504 L104 504 L104 502.2 L111.5 502.2 L111.5 500.6 L117.8 500.6 L117.8 498.8 L124.2 498.8 L124.2 495.5 L130.4 495.5 L130.4 490.3 L135.5 490.3 L135.5 488.8 L140.5 488.8 L140.5 486.3 L150.7 486.3 L150.7 484.3 L159.6 484.3 L159.6 483.6 L164.7 483.6 L164.7 483 L169.8 483 L169.8 481.7 L176.2 481.7 L176.2 480.5 L183.6 480.5 L183.6 479.4 L190.3 479.4 L190.3 477.3 L196 477.3 L196 474.6 L212.3 474.6 L212.3 472.5 L221.8 472.5 L221.8 470.6 L231.4 470.6 L231.4 468.7 L239 468.7 L239 466.8 L240.9 466.8 L240.9 464.9 L248.5 464.9 L248.5 463.5 L250.6 463.5" stroke="#a84b40" stroke-width="1.3" fill="none" stroke-linejoin="miter"/>
<path d="M61.4 512 L79.6 512 L79.6 511.5 L84.7 511.5 L84.7 508.8 L89.8 508.8 L89.8 506.9 L95 506.9 L95 505 L98.7 505 L98.7 503.1 L102.5 503.1 L102.5 501.2 L110 501.2 L110 500.8 L118.3 500.8 L118.3 498.3 L125.3 498.3 L125.3 494.5 L130 494.5 L130 491.5 L135.5 491.5 L135.5 488.7 L137.4 488.7 L137.4 486.8 L140.5 486.8 L140.5 485.5 L150.7 485.5 L150.7 483 L159 483 L159 479.8 L162.2 479.8 L162.2 478.5 L171.1 478.5 L171.1 477.3 L172.4 477.3 L172.4 476 L198.9 476 L198.9 475.4 L204.6 475.4 L204.6 473.5 L216.1 473.5 L216.1 466.2 L238 466.2 L238 463.5 L247.6 463.5 L247.6 462.4 L250.6 462.4" stroke="#2a7396" stroke-width="1.3" fill="none" stroke-linejoin="miter"/>
<path d="M61.4 512 L70.1 512 L70.1 507 L79.6 507 L79.6 507 L90 507 L90 505 L101.5 505 L101.5 499 L111.3 499 L111.3 495.8 L124.4 495.8 L124.4 487.6 L137.5 487.6 L137.5 478.6 L145.6 478.6 L145.6 474.5 L160.9 474.5 L160.9 471.5 L180 471.5 L180 469 L200 469 L200 466.5 L212.3 466.5 L212.3 460 L231.4 460 L231.4 456 L240 456 L240 452 L248.5 452 L248.5 450.5 L250.6 450.5 L250.6 477.8 L248.5 477.8 L248.5 480 L240 480 L240 482 L231.4 482 L231.4 484.5 L212.3 484.5 L212.3 487.5 L200 487.5 L200 490.5 L180 490.5 L180 493 L160.9 493 L160.9 497 L144 497 L144 500 L131 500 L131 502.5 L124.4 502.5 L124.4 506.5 L111.3 506.5 L111.3 509.5 L99.8 509.5 L99.8 512 L61.4 512Z" fill="#F57A88" fill-opacity="0.22"/>
<path d="M61.4 512 L79.6 512 L79.6 504 L85.5 504 L85.5 502.5 L90 502.5 L90 500.5 L96.5 500.5 L96.5 498.5 L101.5 498.5 L101.5 494.5 L110 494.5 L110 491.9 L116 491.9 L116 488 L122 488 L122 484.5 L128 484.5 L128 481 L134.2 481 L134.2 477.9 L141.8 477.9 L141.8 474.1 L150 474.1 L150 472 L158.4 472 L158.4 470.3 L160.9 470.3 L160.9 467.1 L173.6 467.1 L173.6 464.5 L185.5 464.5 L185.5 463.2 L200.8 463.2 L200.8 460.1 L212.3 460.1 L212.3 455.5 L218 455.5 L218 452.5 L239 452.5 L239 450 L250.6 450 L250.6 477.3 L246.6 477.3 L246.6 479.2 L235.2 479.2 L235.2 482 L223.7 482 L223.7 483 L210.4 483 L210.4 486 L200.8 486 L200.8 487.5 L180 487.5 L180 490 L160.9 490 L160.9 493 L144 493 L144 494.5 L135.5 494.5 L135.5 499.5 L130.9 499.5 L130.9 502.5 L124.4 502.5 L124.4 508.5 L111.3 508.5 L111.3 510.5 L99.8 510.5 L99.8 511.5 L93.2 511.5 L93.2 512 L61.4 512Z" fill="#00BFC4" fill-opacity="0.22"/>
</g>
<path d="M49.15 512H51.9M49.15 498.5H51.9M49.15 485H51.9M49.15 471.5H51.9M49.15 458H51.9M49.15 444.5H51.9M49.15 431H51.9M49.15 417.5H51.9M49.15 404H51.9M49.15 390.5H51.9M61.4 512V514.75M99.24 512V514.75M137.08 512V514.75M174.92 512V514.75M212.76 512V514.75M250.6 512V514.75" stroke="#333" stroke-width="1.2" fill="none"/>
<text x="61.4" y="523.8" font-size="8.6" fill="#4D4D4D" stroke="#4D4D4D" stroke-width="0.18" text-anchor="middle">0</text>
<text x="99.24" y="523.8" font-size="8.6" fill="#4D4D4D" stroke="#4D4D4D" stroke-width="0.18" text-anchor="middle">12</text>
<text x="137.08" y="523.8" font-size="8.6" fill="#4D4D4D" stroke="#4D4D4D" stroke-width="0.18" text-anchor="middle">24</text>
<text x="174.92" y="523.8" font-size="8.6" fill="#4D4D4D" stroke="#4D4D4D" stroke-width="0.18" text-anchor="middle">36</text>
<text x="212.76" y="523.8" font-size="8.6" fill="#4D4D4D" stroke="#4D4D4D" stroke-width="0.18" text-anchor="middle">48</text>
<text x="250.6" y="523.8" font-size="8.6" fill="#4D4D4D" stroke="#4D4D4D" stroke-width="0.18" text-anchor="middle">60</text>
<text x="46.2" y="515.1" font-size="8.7" fill="#4D4D4D" stroke="#4D4D4D" stroke-width="0.18" text-anchor="end">0%</text>
<text x="46.2" y="501.6" font-size="8.7" fill="#4D4D4D" stroke="#4D4D4D" stroke-width="0.18" text-anchor="end">10%</text>
<text x="46.2" y="488.1" font-size="8.7" fill="#4D4D4D" stroke="#4D4D4D" stroke-width="0.18" text-anchor="end">20%</text>
<text x="46.2" y="474.6" font-size="8.7" fill="#4D4D4D" stroke="#4D4D4D" stroke-width="0.18" text-anchor="end">30%</text>
<text x="46.2" y="461.1" font-size="8.7" fill="#4D4D4D" stroke="#4D4D4D" stroke-width="0.18" text-anchor="end">40%</text>
<text x="46.2" y="447.6" font-size="8.7" fill="#4D4D4D" stroke="#4D4D4D" stroke-width="0.18" text-anchor="end">50%</text>
<text x="46.2" y="434.1" font-size="8.7" fill="#4D4D4D" stroke="#4D4D4D" stroke-width="0.18" text-anchor="end">60%</text>
<text x="46.2" y="420.6" font-size="8.7" fill="#4D4D4D" stroke="#4D4D4D" stroke-width="0.18" text-anchor="end">70%</text>
<text x="46.2" y="407.1" font-size="8.7" fill="#4D4D4D" stroke="#4D4D4D" stroke-width="0.18" text-anchor="end">80%</text>
<text x="46.2" y="393.6" font-size="8.7" fill="#4D4D4D" stroke="#4D4D4D" stroke-width="0.18" text-anchor="end">90%</text>
<text x="23.8" y="443.7" font-size="11.3" fill="#000" stroke="#000" stroke-width="0.12" text-anchor="middle" transform="rotate(-90 23.8 443.7)">Cumulative Incidence</text>
<text x="248.8" y="386.7" font-size="9" fill="#111" stroke="#111" stroke-width="0.22" text-anchor="end">Grays test :<tspan dx="3.4" font-size="9.9">χ</tspan><tspan dy="-3.8" font-size="6.3">2</tspan><tspan dy="3.8" dx="2.6">=</tspan><tspan dx="3">0</tspan><tspan dx="2.4">,</tspan><tspan dx="3.4" font-style="italic">p</tspan><tspan dx="2.4">=</tspan><tspan dx="3">0.988</tspan></text>
<clipPath id="clipf"><rect x="294" y="377" width="208" height="135"/></clipPath>
<rect x="294" y="377" width="208" height="135" fill="#EBEBEB"/>
<path d="M294 505.25H502M294 491.75H502M294 478.25H502M294 464.75H502M294 451.25H502M294 437.75H502M294 424.25H502M294 410.75H502M294 397.25H502M294 383.75H502M312.85 377V512M322.31 377V512M331.76 377V512M350.67 377V512M360.13 377V512M369.58 377V512M388.5 377V512M397.95 377V512M407.4 377V512M426.31 377V512M435.77 377V512M445.23 377V512M464.13 377V512M473.59 377V512M483.04 377V512" stroke="#fff" stroke-width="0.55" fill="none"/>
<path d="M294 512H502M294 498.5H502M294 485H502M294 471.5H502M294 458H502M294 444.5H502M294 431H502M294 417.5H502M294 404H502M294 390.5H502M294 377H502M303.4 377V512M341.22 377V512M379.04 377V512M416.86 377V512M454.68 377V512M492.5 377V512" stroke="#fff" stroke-width="0.95" fill="none"/>
<g clip-path="url(#clipf)">
<path d="M303.4 512 L312.5 512 L312.5 506.4 L316.4 506.4 L316.4 501 L318.7 501 L318.7 493.9 L325.7 493.9 L325.7 489.2 L335.1 489.2 L335.1 485.3 L338.2 485.3 L338.2 476.8 L341.3 476.8 L341.3 472.9 L344.4 472.9 L344.4 469.8 L360 469.8 L360 465.1 L370.2 465.1 L370.2 455.1 L375.3 455.1 L375.3 452.5 L419.8 452.5 L419.8 447.4 L436.4 447.4 L436.4 443.6 L454.2 443.6 L454.2 438.5 L470.7 438.5 L470.7 432.2 L477.1 432.2" stroke="#a84b40" stroke-width="1.3" fill="none" stroke-linejoin="miter"/>
<path d="M303.4 512 L306.2 512 L306.2 507.2 L315.6 507.2 L315.6 497 L325 497 L325 491.6 L328.8 491.6 L328.8 487.7 L350.7 487.7 L350.7 481.5 L360 481.5 L360 476 L362.4 476 L362.4 472.9 L363.9 472.9 L363.9 465.9 L369.4 465.9 L369.4 456.4 L379.1 456.4 L379.1 447.4 L382.9 447.4 L382.9 442.4 L398.2 442.4 L398.2 435.2 L414.3 435.2 L414.3 429.4 L420 429.4 L420 422.8 L433.1 422.8 L433.1 416.3 L477.1 416.3 L477.1 408 L489.8 408 L489.8 400.4 L491.8 400.4 L491.8 392.7 L492.5 392.7" stroke="#2a7396" stroke-width="1.3" fill="none" stroke-linejoin="miter"/>
<path d="M303.4 512 L308 512 L308 503 L313 503 L313 496 L318 496 L318 490 L322 490 L322 484 L325.7 484 L325.7 479 L328.8 479 L328.8 474 L336.2 474 L336.2 469.7 L338.2 469.7 L338.2 457.3 L344.4 457.3 L344.4 448.7 L361.7 448.7 L361.7 444 L362.5 444 L362.5 446.5 L370.2 446.5 L370.2 434.7 L398.2 434.7 L398.2 427.1 L433.8 427.1 L433.8 420.7 L454.2 420.7 L454.2 418.2 L470.7 418.2 L470.7 411.8 L477.1 411.8 L477.1 451.3 L472 451.3 L472 456.4 L454.2 456.4 L454.2 462.7 L433.8 462.7 L433.8 469.1 L413.4 469.1 L413.4 475.4 L382.9 475.4 L382.9 483.8 L370 483.8 L370 487.7 L360 487.7 L360 490.8 L351.4 490.8 L351.4 493.9 L343.7 493.9 L343.7 498.6 L335.1 498.6 L335.1 504.8 L325 504.8 L325 508 L315.6 508 L315.6 511 L312 511 L312 512 L303.4 512Z" fill="#F57A88" fill-opacity="0.22"/>
<path d="M303.4 512 L306.2 512 L306.2 490.8 L315.6 490.8 L315.6 478.3 L328.8 478.3 L328.8 465.1 L351.4 465.1 L351.4 451.8 L362.4 451.8 L362.4 440.1 L370.2 440.1 L370.2 428.4 L381.6 428.4 L381.6 420.7 L398.2 420.7 L398.2 411.8 L413.4 411.8 L413.4 404.2 L433.8 404.2 L433.8 395.3 L477.1 395.3 L477.1 390.2 L489.8 390.2 L489.8 386.4 L492.5 386.4 L492.5 442.4 L489.8 442.4 L489.8 443.6 L477.1 443.6 L477.1 451.3 L433.8 451.3 L433.8 452.5 L413.4 452.5 L413.4 456.4 L398.2 456.4 L398.2 464 L382.9 464 L382.9 482 L372 482 L372 490.8 L370 490.8 L370 492.4 L360 492.4 L360 497 L351.4 497 L351.4 500.2 L343.7 500.2 L343.7 503.3 L335.1 503.3 L335.1 508 L325 508 L325 511 L323.4 511 L323.4 512 L303.4 512Z" fill="#00BFC4" fill-opacity="0.22"/>
</g>
<text x="425.6" y="415.8" font-size="8.1" fill="#23869f" stroke="#23869f" stroke-width="0.2" text-anchor="middle" transform="rotate(-23.7 425.6 415.8)">Morcellated LMS</text>
<text x="420.3" y="460" font-size="8.1" fill="#ad5249" stroke="#ad5249" stroke-width="0.2" text-anchor="middle" transform="rotate(-11.5 420.3 460)">Non-morcellated LMS</text>
<path d="M291.25 512H294M291.25 498.5H294M291.25 485H294M291.25 471.5H294M291.25 458H294M291.25 444.5H294M291.25 431H294M291.25 417.5H294M291.25 404H294M291.25 390.5H294M303.4 512V514.75M341.22 512V514.75M379.04 512V514.75M416.86 512V514.75M454.68 512V514.75M492.5 512V514.75" stroke="#333" stroke-width="1.2" fill="none"/>
<text x="303.4" y="523.8" font-size="8.6" fill="#4D4D4D" stroke="#4D4D4D" stroke-width="0.18" text-anchor="middle">0</text>
<text x="341.22" y="523.8" font-size="8.6" fill="#4D4D4D" stroke="#4D4D4D" stroke-width="0.18" text-anchor="middle">12</text>
<text x="379.04" y="523.8" font-size="8.6" fill="#4D4D4D" stroke="#4D4D4D" stroke-width="0.18" text-anchor="middle">24</text>
<text x="416.86" y="523.8" font-size="8.6" fill="#4D4D4D" stroke="#4D4D4D" stroke-width="0.18" text-anchor="middle">36</text>
<text x="454.68" y="523.8" font-size="8.6" fill="#4D4D4D" stroke="#4D4D4D" stroke-width="0.18" text-anchor="middle">48</text>
<text x="492.5" y="523.8" font-size="8.6" fill="#4D4D4D" stroke="#4D4D4D" stroke-width="0.18" text-anchor="middle">60</text>
<text x="490.7" y="386.7" font-size="9" fill="#111" stroke="#111" stroke-width="0.22" text-anchor="end">Grays test :<tspan dx="3.4" font-size="9.9">χ</tspan><tspan dy="-3.8" font-size="6.3">2</tspan><tspan dy="3.8" dx="2.6">=</tspan><tspan dx="3">1.65</tspan><tspan dx="2.4">,</tspan><tspan dx="3.4" font-style="italic">p</tspan><tspan dx="2.4">=</tspan><tspan dx="3">0.199</tspan></text>
<rect x="51.9" y="16.5" width="206.2" height="30.5" fill="#D9D9D9"/>
<text x="155" y="29.7" font-size="10.25" font-weight="bold" fill="#1A1A1A" text-anchor="middle">Leiomyosarcoma</text>
<text x="155" y="41.3" font-size="10.25" font-weight="bold" fill="#1A1A1A" text-anchor="middle">Tumour grade pT1 [FIGO IA/B, n=222]</text>
<rect x="296.1" y="16.5" width="206.2" height="30.5" fill="#D9D9D9"/>
<text x="399.2" y="29.7" font-size="10.25" font-weight="bold" fill="#1A1A1A" text-anchor="middle">Leiomyosarcoma</text>
<text x="399.2" y="41.3" font-size="10.25" font-weight="bold" fill="#1A1A1A" text-anchor="middle">Tumour grade &gt;pT1 [FIGO II-IVA, n=66]</text>
<rect x="502.3" y="47" width="41.3" height="135" fill="#D9D9D9"/>
<text x="530.95" y="114.5" font-size="10.25" font-weight="bold" fill="#1A1A1A" text-anchor="middle" transform="rotate(90 530.95 114.5)">Local recurrence (pelvic,</text>
<text x="519.35" y="114.5" font-size="10.25" font-weight="bold" fill="#1A1A1A" text-anchor="middle" transform="rotate(90 519.35 114.5)">pelvic retroperitoneal</text>
<text x="507.75" y="114.5" font-size="10.25" font-weight="bold" fill="#1A1A1A" text-anchor="middle" transform="rotate(90 507.75 114.5)">or intrabdominal)</text>
<rect x="502.3" y="211.7" width="19.2" height="135" fill="#D9D9D9"/>
<text x="508.3" y="279.2" font-size="10.25" font-weight="bold" fill="#1A1A1A" text-anchor="middle" transform="rotate(90 508.3 279.2)">Distant metastasis</text>
<rect x="502" y="377" width="30.5" height="135" fill="#D9D9D9"/>
<text x="519.45" y="444.5" font-size="10.25" font-weight="bold" fill="#1A1A1A" text-anchor="middle" transform="rotate(90 519.45 444.5)">LMS death</text>
<text x="507.85" y="444.5" font-size="10.25" font-weight="bold" fill="#1A1A1A" text-anchor="middle" transform="rotate(90 507.85 444.5)">after initial therapy</text>
<text x="156.3" y="537.7" font-size="11.22" fill="#000" stroke="#000" stroke-width="0.12" text-anchor="middle">Time after operation [months]</text>
</g></svg>
</body></html>
